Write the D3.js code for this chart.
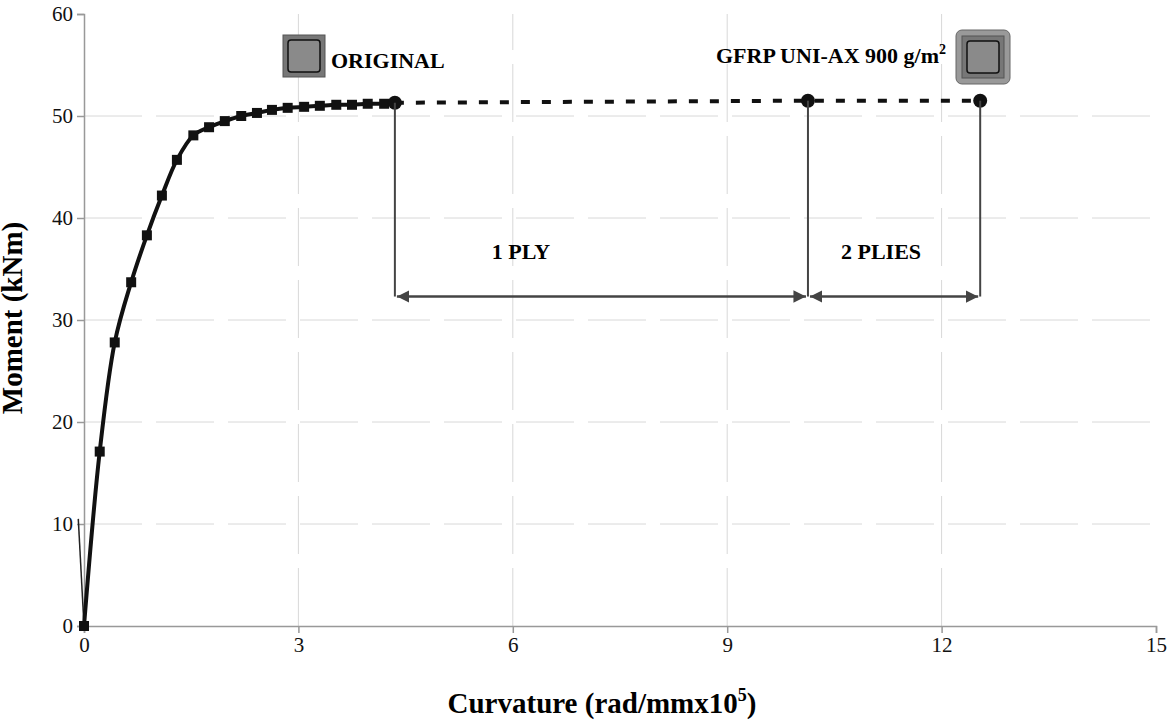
<!DOCTYPE html>
<html><head><meta charset="utf-8">
<script src="https://cdn.jsdelivr.net/npm/d3@7"></script>
<style>body{margin:0;background:#fff}svg,svg text{font-family:"Liberation Serif","Times New Roman",serif}</style>
</head><body><svg id="c" width="1175" height="721"></svg>
<script>
// curvature (rad/mm x10^5) and moment (kNm)
var curvOrig = [0, 0.22, 0.43, 0.66, 0.88, 1.09, 1.30, 1.53, 1.75, 1.97, 2.20, 2.42, 2.63, 2.85, 3.08, 3.30, 3.53, 3.75, 3.97, 4.20];
var momOrig = [0, 17.1, 27.8, 33.7, 38.3, 42.2, 45.7, 48.1, 48.9, 49.5, 50.0, 50.3, 50.6, 50.8, 50.9, 51.0, 51.1, 51.1, 51.2, 51.2];
var curvEnd = [4.35, 10.13, 12.54];
var momEnd = [51.3, 51.5, 51.5];
var xTicks = [0, 3, 6, 9, 12, 15];
var yTicks = [0, 10, 20, 30, 40, 50, 60];
var arrowY = 32.3;
var plyLabels = ["1 PLY", "2 PLIES"];

var svg = d3.select("#c");
var x = d3.scaleLinear().domain([0, 15]).range([84, 1156]);
var y = d3.scaleLinear().domain([0, 60]).range([626, 14]);

// grid
svg.selectAll(".gy").data(yTicks.slice(1, -1)).enter().append("line")
  .attr("x1", x(0)).attr("x2", x(15)).attr("y1", y).attr("y2", y)
  .attr("stroke", "#d8d8d8").attr("stroke-dasharray", "58,14");
svg.selectAll(".gx").data(xTicks.slice(1, -1)).enter().append("line")
  .attr("x1", x).attr("x2", x).attr("y1", y(0)).attr("y2", y(60))
  .attr("stroke", "#d8d8d8").attr("stroke-dasharray", "58,14");

// axes
var xa = svg.append("g").attr("transform", "translate(0," + y(0) + ")")
  .call(d3.axisBottom(x).tickValues(xTicks).tickSize(7).tickPadding(4));
var ya = svg.append("g").attr("transform", "translate(" + x(0) + ",0)")
  .call(d3.axisLeft(y).tickValues(yTicks).tickSize(7).tickPadding(4));
[xa, ya].forEach(function (a) {
  a.attr("font-family", null);
  a.selectAll("path,line").attr("stroke", "#999").attr("stroke-width", 1.5);
  a.selectAll("text").attr("font-size", 21).attr("fill", "#111")
    .style("font-family", "'Liberation Serif', serif");
});

// small spike near origin
svg.append("path").attr("d", d3.line()([[x(-0.08), y(10.5)], [x(0), y(0)]]))
  .attr("stroke", "#222").attr("stroke-width", 1.5).attr("fill", "none");

// original curve
var pts = curvOrig.map(function (d, i) { return [x(d), y(momOrig[i])]; });
pts.push([x(curvEnd[0]), y(momEnd[0])]);
svg.append("path").attr("d", d3.line().curve(d3.curveCatmullRom)(pts))
  .attr("fill", "none").attr("stroke", "#111").attr("stroke-width", 4);
svg.selectAll(".sq").data(curvOrig).enter().append("rect")
  .attr("x", function (d) { return x(d) - 5; })
  .attr("y", function (d, i) { return y(momOrig[i]) - 5; })
  .attr("width", 10).attr("height", 10).attr("fill", "#111");

// dashed extension
svg.append("path").attr("d", d3.line()(curvEnd.map(function (d, i) { return [x(d), y(momEnd[i])]; })))
  .attr("fill", "none").attr("stroke", "#111").attr("stroke-width", 4).attr("stroke-dasharray", "9,12");
svg.selectAll(".dot").data(curvEnd).enter().append("circle")
  .attr("cx", x).attr("cy", function (d, i) { return y(momEnd[i]); })
  .attr("r", 7).attr("fill", "#111");

// drop lines and arrows
svg.append("defs").append("marker").attr("id", "ah").attr("viewBox", "0 0 10 10")
  .attr("refX", 10).attr("refY", 5).attr("markerWidth", 5).attr("markerHeight", 5)
  .attr("orient", "auto-start-reverse")
  .append("path").attr("d", "M0,0L10,5L0,10z").attr("fill", "#444");
curvEnd.forEach(function (d, i) {
  svg.append("line").attr("x1", x(d)).attr("x2", x(d)).attr("y1", y(momEnd[i]))
    .attr("y2", y(arrowY)).attr("stroke", "#444").attr("stroke-width", 2);
});
for (var i = 0; i < 2; i++) {
  svg.append("line").attr("x1", x(curvEnd[i]) + 2).attr("x2", x(curvEnd[i + 1]) - 2)
    .attr("y1", y(arrowY)).attr("y2", y(arrowY)).attr("stroke", "#444").attr("stroke-width", 2.5)
    .attr("marker-start", "url(#ah)").attr("marker-end", "url(#ah)");
  svg.append("text").attr("x", i == 0 ? 521 : 881).attr("y", y(arrowY) - 38)
    .attr("text-anchor", "middle").attr("font-size", 22).attr("font-weight", "bold").text(plyLabels[i]);
}

// legend boxes
function box(cx, cy, s, dbl) {
  if (dbl) svg.append("rect").attr("x", cx - s / 2 - 6).attr("y", cy - s / 2 - 6).attr("width", s + 12)
    .attr("height", s + 12).attr("rx", 6).attr("fill", "#999").attr("stroke", "#666");
  svg.append("rect").attr("x", cx - s / 2).attr("y", cy - s / 2).attr("width", s).attr("height", s)
    .attr("fill", "#777").attr("stroke", "#555");
  svg.append("rect").attr("x", cx - s / 2 + 5).attr("y", cy - s / 2 + 5).attr("width", s - 10).attr("height", s - 10)
    .attr("rx", 3).attr("fill", "#8a8a8a").attr("stroke", "#111").attr("stroke-width", 1.5);
}
box(304, 56, 42, false);
box(983, 57, 42, true);
svg.append("text").attr("x", 331).attr("y", 68).attr("font-size", 22).attr("font-weight", "bold").text("ORIGINAL");
var g = svg.append("text").attr("x", 946).attr("y", 63).attr("text-anchor", "end")
  .attr("font-size", 22).attr("font-weight", "bold").text("GFRP UNI-AX 900 g/m");
g.append("tspan").attr("font-size", 14).attr("dy", -9).text("2");

// axis titles
var xt = svg.append("text").attr("x", 602).attr("y", 713).attr("text-anchor", "middle")
  .attr("font-size", 29).attr("font-weight", "bold").text("Curvature (rad/mmx10");
xt.append("tspan").attr("font-size", 18).attr("dy", -12).text("5");
xt.append("tspan").attr("dy", 12).text(")");
svg.append("text").attr("transform", "translate(22,318) rotate(-90)").attr("text-anchor", "middle")
  .attr("font-size", 29).attr("font-weight", "bold").text("Moment (kNm)");
</script></body></html>
